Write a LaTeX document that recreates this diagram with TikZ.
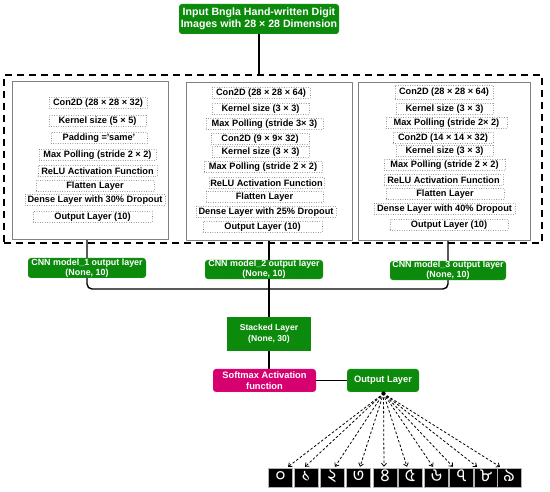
\documentclass[tikz,border=0pt]{standalone}
\usepackage{fontspec}
\setmainfont{Liberation Sans}
\newfontfamily\bengfont[Script=Bengali]{Hind Siliguri}
\usepackage{tikz}
\usetikzlibrary{arrows.meta,backgrounds}
\definecolor{cnngreen}{RGB}{12,138,12}
\definecolor{softpink}{RGB}{214,0,112}
\definecolor{boxgray}{RGB}{128,128,128}

\begin{document}
\begin{tikzpicture}[line cap=round,line join=round,x=1pt,y=-1pt,
    greenbox/.style={fill=cnngreen,draw=cnngreen!45,dotted,rounded corners=3pt,text=white,align=center,inner sep=0.5pt,font=\bfseries\fontsize{8.9}{9.8}\selectfont},
    pinkbox/.style={greenbox,fill=softpink,draw=softpink!45},
    layerbox/.style={draw=boxgray,dotted,minimum height=11pt,inner xsep=0.5pt,inner ysep=0pt,font=\bfseries\fontsize{9.2}{9.5}\selectfont},
    modelbox/.style={draw=boxgray,line width=0.8pt,inner sep=0pt},
    outerbox/.style={draw=black,line width=1.5pt,line cap=butt,dash pattern=on 7pt off 5pt,inner sep=0pt},
    wire/.style={line width=1.4pt},
    fan/.style={line width=0.8pt,line cap=butt,dash pattern=on 2.5pt off 2pt,shorten <=4pt,-{Straight Barb[length=3pt,width=5pt]}},
    digitbox/.style={fill=black,draw=boxgray!60,minimum width=24pt,minimum height=19pt,inner sep=0pt,text height=9.5pt,text depth=0.5pt,text=white,font=\bengfont\fontsize{18}{18}\selectfont}]
    \useasboundingbox (0,0) rectangle (550,492);
    % input
    \node[greenbox,minimum width=160pt,minimum height=30pt,font=\bfseries\fontsize{10.6}{12}\selectfont] (input) at (259,19) {Input Bngla Hand-written Digit\\Images with 28 × 28 Dimension};
    % ensemble of three CNN models
    \node[outerbox,minimum width=538pt,minimum height=168pt] (ensemble) at (273,159) {};
    \node[modelbox,minimum width=156pt,minimum height=158pt] (model1) at (90,160) {};
    \node[modelbox,minimum width=166pt,minimum height=158pt] (model2) at (269,161) {};
    \node[modelbox,minimum width=172pt,minimum height=158pt] (model3) at (444,161) {};
    % model_1 layers
    \node[layerbox,minimum width=98pt] (m1a) at (98,103) {Con2D (28 × 28 × 32)};
    \node[layerbox,minimum width=97pt] (m1b) at (97.5,121) {Kernel size (5 × 5)};
    \node[layerbox,minimum width=96pt] (m1c) at (99,138) {Padding ='same'};
    \node[layerbox,minimum width=117pt] (m1d) at (97.5,155) {Max Polling (stride 2 × 2)};
    \node[layerbox,minimum width=119pt] (m1e) at (97.5,171) {ReLU Activation Function};
    \node[layerbox,minimum width=118pt] (m1f) at (95,186) {Flatten Layer};
    \node[layerbox,minimum width=140pt] (m1g) at (95,200) {Dense Layer with 30\% Dropout};
    \node[layerbox,minimum width=119pt] (m1h) at (92.5,217) {Output Layer (10)};
    % model_2 layers
    \node[layerbox,minimum width=98pt] (m2a) at (261,93) {Con2D (28 × 28 × 64)};
    \node[layerbox,minimum width=97pt] (m2b) at (260.5,109) {Kernel size (3 × 3)};
    \node[layerbox,minimum width=117pt] (m2c) at (264.5,124) {Max Polling (stride 3× 3)};
    \node[layerbox,minimum width=98pt] (m2d) at (260,139) {Con2D (9 × 9× 32)};
    \node[layerbox,minimum width=97pt] (m2e) at (260.5,152) {Kernel size (3 × 3)};
    \node[layerbox,minimum width=118pt] (m2f) at (263,167) {Max Polling (stride 2 × 2)};
    \node[layerbox,minimum width=115pt] (m2g) at (266.5,183) {ReLU Activation Function};
    \node[layerbox,minimum width=117pt] (m2h) at (264.5,197) {Flatten Layer};
    \node[layerbox,minimum width=140pt] (m2i) at (266,212) {Dense Layer with 25\% Dropout};
    \node[layerbox,minimum width=119pt] (m2j) at (262.5,227) {Output Layer (10)};
    % model_3 layers
    \node[layerbox,minimum width=98pt,minimum height=14pt] (m3a) at (444,92) {Con2D (28 × 28 × 64)};
    \node[layerbox,minimum width=97pt] (m3b) at (444.5,109) {Kernel size (3 × 3)};
    \node[layerbox,minimum width=121pt] (m3c) at (446.5,123) {Max Polling (stride 2× 2)};
    \node[layerbox,minimum width=100pt] (m3d) at (443,138) {Con2D (14 × 14 × 32)};
    \node[layerbox,minimum width=97pt] (m3e) at (444.5,151) {Kernel size (3 × 3)};
    \node[layerbox,minimum width=121pt] (m3f) at (444.5,165) {Max Polling (stride 2 × 2)};
    \node[layerbox,minimum width=119pt] (m3g) at (443.5,180) {ReLU Activation Function};
    \node[layerbox,minimum width=118pt] (m3h) at (445,194) {Flatten Layer};
    \node[layerbox,minimum width=141pt] (m3i) at (444.5,209) {Dense Layer with 40\% Dropout};
    \node[layerbox,minimum width=118pt] (m3j) at (449,225) {Output Layer (10)};
    % model outputs
    \node[greenbox,minimum width=118pt,minimum height=20pt] (label1) at (87,268) {CNN model\_1 output layer\\(None, 10)};
    \node[greenbox,minimum width=118pt,minimum height=19pt] (label2) at (264,269.5) {CNN model\_2 output layer\\(None, 10)};
    \node[greenbox,minimum width=116pt,minimum height=19pt] (label3) at (448,270.5) {CNN model\_3 output layer\\(None, 10)};
    \coordinate (bus) at (269,289);
    % stacking and output
    \node[greenbox,rounded corners=0pt,draw=none,minimum width=84pt,minimum height=34pt,font=\bfseries\fontsize{8.6}{11}\selectfont] (stacked) at (269,334) {Stacked Layer\\(None, 30)};
    \node[pinkbox,minimum width=103pt,minimum height=23pt,font=\bfseries\fontsize{9.3}{11}\selectfont] (softmax) at (264.5,380.5) {Softmax Activation\\function};
    \node[greenbox,minimum width=72pt,minimum height=23pt,font=\bfseries\fontsize{9.3}{11}\selectfont] (output) at (383,380.5) {Output Layer};
    \coordinate (hub) at (383.5,393.5);
    % digit classes
    \node[digitbox] (d0) at (280.5,477.5) {০};
    \node[digitbox] (d1) at (306,477.5) {১};
    \node[digitbox] (d2) at (332,477.5) {২};
    \node[digitbox] (d3) at (358.5,477.5) {৩};
    \node[digitbox] (d4) at (385,477.5) {৪};
    \node[digitbox] (d5) at (410,477.5) {৫};
    \node[digitbox] (d6) at (436.5,477.5) {৬};
    \node[digitbox] (d7) at (461.5,477.5) {৭};
    \node[digitbox] (d8) at (486,477.5) {৮};
    \node[digitbox] (d9) at (509,477.5) {৯};
    \begin{pgfonlayer}{background}
        \draw[wire] (input.south) -- (input.south |- ensemble.north);
        \draw[wire,rounded corners=5pt] (label1.center |- model1.south) -- (label1.center |- bus) -- (label3.center |- bus) -- (label3.center |- model3.south);
        \draw[wire] (stacked.north |- model2.south) -- (stacked.north);
        \draw[wire] (stacked.south) -- (stacked.south |- softmax.north);
        \draw[wire] (softmax.east) -- (output.west);
    \end{pgfonlayer}
    \fill (hub) circle (2.2pt);
    \draw[fan] (hub) -- ([xshift=7.5pt,yshift=1pt]d0.north);
    \draw[fan] (hub) -- ([xshift=-1pt,yshift=1pt]d1.north);
    \draw[fan] (hub) -- ([xshift=3pt,yshift=1pt]d2.north);
    \draw[fan] (hub) -- ([xshift=1.5pt,yshift=1pt]d3.north);
    \draw[fan] (hub) -- ([xshift=-1pt,yshift=1pt]d4.north);
    \draw[fan] (hub) -- ([xshift=-3pt,yshift=1pt]d5.north);
    \draw[fan] (hub) -- ([xshift=-3.5pt,yshift=1pt]d6.north);
    \draw[fan] (hub) -- ([xshift=-8.5pt,yshift=1pt]d7.north);
    \draw[fan] (hub) -- ([xshift=-9pt,yshift=1pt]d8.north);
    \draw[fan] (hub) -- ([xshift=-9pt,yshift=1pt]d9.north);
\end{tikzpicture}
\end{document}
